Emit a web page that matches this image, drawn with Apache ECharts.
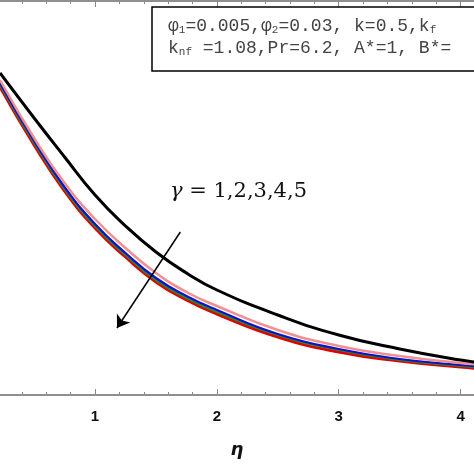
<!DOCTYPE html>
<html>
<head>
<meta charset="utf-8">
<script src="https://cdn.jsdelivr.net/npm/echarts@6/dist/echarts.min.js"></script>
<style>html,body{margin:0;padding:0;background:#fff}#main{width:474px;height:474px}</style>
</head>
<body>
<div id="main"></div>
<script>
let eta = [0.22, 0.5, 0.75, 1, 1.25, 1.5, 1.75, 2, 2.5, 3, 3.5, 4, 4.2];
let gamma1 = [322, 277, 238, 200, 169, 143, 122, 105, 80, 60, 46, 35, 32];
let gamma2 = [315, 257, 212, 176, 147, 122, 103, 89, 65, 49, 39, 32, 30];
let gamma3 = [312, 254, 208, 171, 142, 117, 99, 85, 61, 46, 36, 30, 28];
let gamma4 = [310, 252, 206, 169, 140, 115, 97, 83, 60, 45, 35, 29, 27];
let gamma5 = [308, 250, 204, 167, 138, 113, 95, 81, 58, 43, 34, 28, 26];
let xTicks = [1, 2, 3, 4];
let xMinorTicks = [0.4, 0.6, 0.8, 1.2, 1.4, 1.6, 1.8, 2.2, 2.4, 2.6, 2.8, 3.2, 3.4, 3.6, 3.8, 4.2];

let myChart = echarts.init(document.getElementById('main'));

function pairs(arr) {
  return arr.map(function(v, i) { return [eta[i], v]; });
}
function line(name, data, color, w) {
  return {
    name: name, type: 'line', smooth: true, symbol: 'none',
    data: pairs(data),
    lineStyle: { color: color, width: w }
  };
}

let series = [
  line('γ=5', gamma5, '#e00000', 3),
  line('γ=4', gamma4, '#2a8a2a', 2.2),
  line('γ=3', gamma3, '#1010cc', 2.2),
  line('γ=2', gamma2, '#f09090', 2.5),
  line('γ=1', gamma1, '#000000', 3)
];
series[4].markLine = {
  silent: true,
  symbol: ['none', 'arrow'],
  symbolSize: 12,
  label: { show: false },
  lineStyle: { color: '#000', width: 1.5, type: 'solid' },
  data: [[{ coord: [1.70, 163] }, { coord: [1.18, 67] }]]
};

function xAxisDef(pos, ticks, len, labels) {
  return {
    type: 'value', min: 0.22, max: 4.11, position: pos,
    axisLine: { show: true, onZero: false, lineStyle: { color: '#888', width: 1.5 } },
    axisTick: { show: true, inside: true, length: len, customValues: ticks, lineStyle: { color: '#888' } },
    axisLabel: labels ? {
      customValues: xTicks, fontSize: 15, fontWeight: 'bold', color: '#111', margin: 14, fontFamily: 'Liberation Sans'
    } : { show: false },
    splitLine: { show: false }
  };
}

let bottomAxis = xAxisDef('bottom', xTicks, 6, true);
bottomAxis.name = 'η';
bottomAxis.nameLocation = 'middle';
bottomAxis.nameGap = 46;
bottomAxis.nameTextStyle = { fontSize: 18, fontWeight: 'bold', fontStyle: 'italic', color: '#111', fontFamily: 'DejaVu Sans' };

let option = {
  animation: false,
  grid: { left: 0, right: 0, top: 1, bottom: 79 },
  xAxis: [
    bottomAxis,
    xAxisDef('bottom', xMinorTicks, 3, false),
    xAxisDef('top', xTicks, 6, false),
    xAxisDef('top', xMinorTicks, 3, false)
  ],
  yAxis: { type: 'value', min: 0, max: 394, show: false },
  series: series,
  graphic: [
    {
      type: 'rect', shape: { x: 152, y: 7, width: 340, height: 64 },
      style: { fill: '#fff', stroke: '#000', lineWidth: 1.5 }, z: 10
    },
    {
      type: 'text', left: 168, top: 15, z: 11,
      style: {
        text: 'φ{s|1}=0.005,φ{s|2}=0.03, k=0.5,k{s|f}\nk{s|nf} =1.08,Pr=6.2, A*=1, B*=',
        font: '18px "Liberation Mono"', fill: '#444', lineHeight: 22,
        rich: { s: { font: '11px "Liberation Mono"', fill: '#444', padding: [8, 0, 0, 0] } }
      }
    },
    {
      type: 'text', left: 170, top: 181, z: 11,
      style: {
        text: '{g|γ} = 1,2,3,4,5',
        font: '21px "DejaVu Serif"', fill: '#111',
        rich: { g: { font: 'italic 21px "DejaVu Serif"', fill: '#111' } }
      }
    }
  ]
};
myChart.setOption(option);
</script>
</body>
</html>
